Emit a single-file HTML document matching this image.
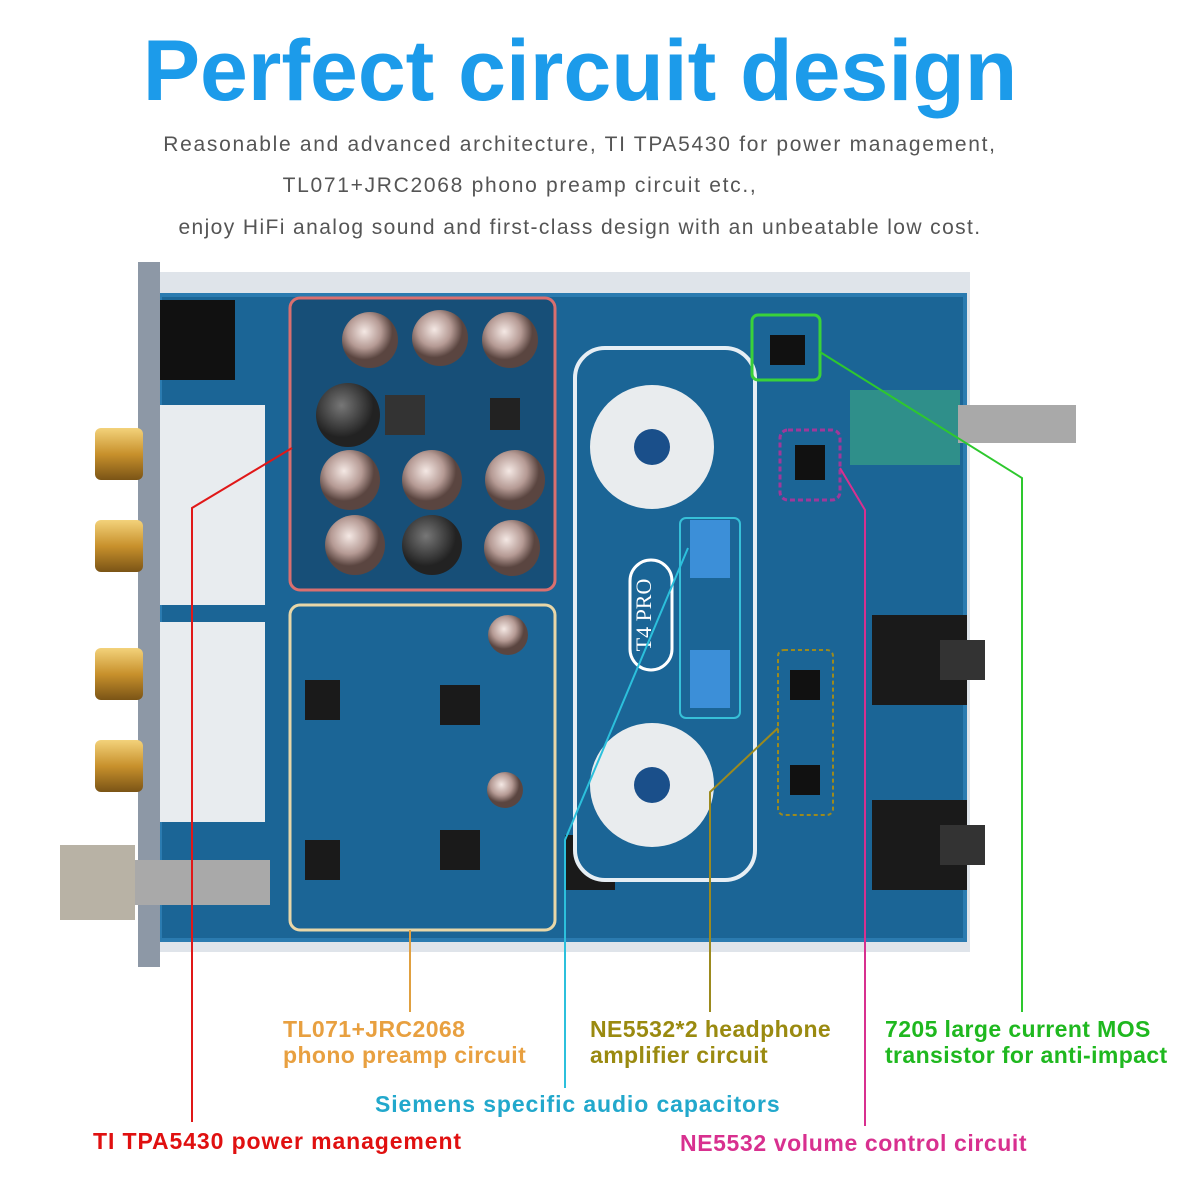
<!DOCTYPE html>
<html><head><meta charset="utf-8"><style>
body{margin:0;width:1200px;height:1200px;background:#fff;overflow:hidden;position:relative;font-family:"Liberation Sans",sans-serif}
.t{position:absolute;left:0;width:1200px;text-align:center}
.lbl{position:absolute;font-weight:bold;font-size:23px;letter-spacing:0.4px;white-space:nowrap;line-height:26px}
</style></head><body>
<div class="t" style="top:22px;left:-20px;font-size:86px;font-weight:bold;color:#1c9bea;letter-spacing:0px">Perfect circuit design</div>
<div class="t" style="top:133px;left:-20px;font-size:21px;color:#555;letter-spacing:1.7px">Reasonable and advanced architecture, TI TPA5430 for power management,</div>
<div class="t" style="top:174px;left:-80px;font-size:21px;color:#555;letter-spacing:1.7px">TL071+JRC2068 phono preamp circuit etc.,</div>
<div class="t" style="top:216px;left:-20px;font-size:21px;color:#555;letter-spacing:1.4px">enjoy HiFi analog sound and first-class design with an unbeatable low cost.</div>

<svg style="position:absolute;left:0;top:0" width="1200" height="1200">
<defs>
<radialGradient id="cap" cx="40%" cy="35%"><stop offset="0" stop-color="#f4e8e4"/><stop offset="0.6" stop-color="#b59a94"/><stop offset="1" stop-color="#5a4540"/></radialGradient>
<radialGradient id="blk" cx="40%" cy="35%"><stop offset="0" stop-color="#777"/><stop offset="1" stop-color="#222"/></radialGradient>
<linearGradient id="gold" x1="0" y1="0" x2="0" y2="1"><stop offset="0" stop-color="#f3d27a"/><stop offset="0.5" stop-color="#c8912c"/><stop offset="1" stop-color="#7a5416"/></linearGradient>
</defs>
<rect x="150" y="272" width="820" height="680" fill="#dfe4ea"/>
<rect x="160" y="295" width="805" height="645" fill="#1b6596"/>
<rect x="160" y="295" width="805" height="645" fill="none" stroke="#2b7bb0" stroke-width="4"/>
<rect x="138" y="262" width="22" height="705" fill="#8d98a6"/>
<rect x="160" y="300" width="75" height="80" fill="#111"/>
<g fill="url(#gold)">
<rect x="95" y="428" width="48" height="52" rx="6"/><rect x="95" y="520" width="48" height="52" rx="6"/>
<rect x="95" y="648" width="48" height="52" rx="6"/><rect x="95" y="740" width="48" height="52" rx="6"/>
</g>
<rect x="160" y="405" width="105" height="200" fill="#e8ecef"/>
<rect x="160" y="622" width="105" height="200" fill="#e8ecef"/>
<rect x="60" y="845" width="75" height="75" fill="#b8b2a5"/>
<rect x="135" y="860" width="135" height="45" fill="#a9a9a9"/>
<rect x="290" y="298" width="265" height="292" rx="10" fill="#174f78" stroke="#d96f6f" stroke-width="3"/>
<g>
<circle cx="370" cy="340" r="28" fill="url(#cap)"/><circle cx="440" cy="338" r="28" fill="url(#cap)"/><circle cx="510" cy="340" r="28" fill="url(#cap)"/>
<circle cx="348" cy="415" r="32" fill="url(#blk)"/><rect x="385" y="395" width="40" height="40" fill="#333"/>
<circle cx="350" cy="480" r="30" fill="url(#cap)"/><circle cx="432" cy="480" r="30" fill="url(#cap)"/><circle cx="515" cy="480" r="30" fill="url(#cap)"/>
<circle cx="355" cy="545" r="30" fill="url(#cap)"/><circle cx="432" cy="545" r="30" fill="url(#blk)"/><circle cx="512" cy="548" r="28" fill="url(#cap)"/>
<rect x="490" y="398" width="30" height="32" fill="#222"/>
</g>
<rect x="290" y="605" width="265" height="325" rx="10" fill="#1b6596" stroke="#e8d7a8" stroke-width="3"/>
<circle cx="508" cy="635" r="20" fill="url(#cap)"/><circle cx="505" cy="790" r="18" fill="url(#cap)"/>
<g fill="#1a1a1a"><rect x="305" y="680" width="35" height="40"/><rect x="440" y="685" width="40" height="40"/><rect x="305" y="840" width="35" height="40"/><rect x="440" y="830" width="40" height="40"/><rect x="565" y="835" width="50" height="55"/></g>
<rect x="575" y="348" width="180" height="532" rx="30" fill="#1b6596" stroke="#e6eef4" stroke-width="4"/>
<circle cx="652" cy="447" r="62" fill="#e9ecee"/><circle cx="652" cy="447" r="18" fill="#1a4f8a"/>
<circle cx="652" cy="785" r="62" fill="#e9ecee"/><circle cx="652" cy="785" r="18" fill="#1a4f8a"/>
<rect x="630" y="560" width="42" height="110" rx="21" fill="none" stroke="#fff" stroke-width="3"/>
<text x="651" y="615" fill="#fff" font-size="22" font-family="Liberation Serif" text-anchor="middle" transform="rotate(-90 651 615)">T4 PRO</text>
<rect x="680" y="518" width="60" height="200" rx="6" fill="none" stroke="#37c0d8" stroke-width="2"/>
<rect x="690" y="520" width="40" height="58" fill="#3c8fd8"/><rect x="690" y="650" width="40" height="58" fill="#3c8fd8"/>
<rect x="752" y="315" width="68" height="65" rx="6" fill="none" stroke="#3ad13a" stroke-width="3"/>
<rect x="770" y="335" width="35" height="30" fill="#111"/>
<rect x="780" y="430" width="60" height="70" rx="8" fill="none" stroke="#a0389a" stroke-width="3" stroke-dasharray="5 3"/>
<rect x="795" y="445" width="30" height="35" fill="#111"/>
<rect x="778" y="650" width="55" height="165" rx="6" fill="none" stroke="#9c8a1e" stroke-width="2" stroke-dasharray="4 3"/>
<rect x="790" y="670" width="30" height="30" fill="#111"/><rect x="790" y="765" width="30" height="30" fill="#111"/>
<rect x="850" y="390" width="110" height="75" fill="#2f8f8a"/>
<rect x="958" y="405" width="118" height="38" fill="#a9a9a9"/>
<rect x="872" y="615" width="95" height="90" fill="#1a1a1a"/><rect x="872" y="800" width="95" height="90" fill="#1a1a1a"/>
<rect x="940" y="640" width="45" height="40" fill="#333"/><rect x="940" y="825" width="45" height="40" fill="#333"/>
<g fill="none" stroke-width="2">
<polyline points="292,448 192,508 192,1122" stroke="#e01818"/>
<polyline points="410,930 410,1012" stroke="#e0a040"/>
<polyline points="688,548 565,840 565,1088" stroke="#2cc0dc"/>
<polyline points="778,728 710,792 710,1012" stroke="#9c8a1e"/>
<polyline points="840,468 865,510 865,1126" stroke="#d8308f"/>
<polyline points="820,352 1022,478 1022,1012" stroke="#2ec82e"/>
</g>
</svg>
<div class="lbl" style="left:283px;top:1016px;color:#e8a040">TL071+JRC2068<br>phono preamp circuit</div>
<div class="lbl" style="left:590px;top:1016px;color:#9a8a10">NE5532*2 headphone<br>amplifier circuit</div>
<div class="lbl" style="left:885px;top:1016px;color:#1fb81f">7205 large current MOS<br>transistor for anti-impact</div>
<div class="lbl" style="left:375px;top:1091px;color:#22a8cc;letter-spacing:0.9px">Siemens specific audio capacitors</div>
<div class="lbl" style="left:93px;top:1128px;color:#e01010;letter-spacing:0.9px">TI TPA5430 power management</div>
<div class="lbl" style="left:680px;top:1130px;color:#d8308f;letter-spacing:0.6px">NE5532 volume control circuit</div>
</body></html>
